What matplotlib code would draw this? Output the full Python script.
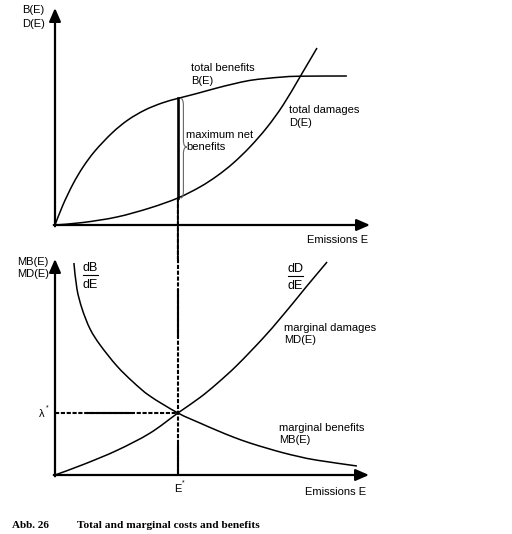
import matplotlib.pyplot as plt
from matplotlib.patches import ConnectionPatch, PathPatch
from matplotlib.path import Path
from matplotlib.lines import Line2D

plt.rcParams['font.family'] = ['Liberation Sans', 'DejaVu Sans']

W, H = 512, 534

# curves (E in axis units, E* ~ 4)
b_E = [0, 0.26, 0.59, 0.92, 1.31, 1.87, 2.39, 2.95, 3.51, 4.03, 4.59, 5.31, 5.84, 6.39, 6.95, 7.48, 8.03, 9.57]
b_val = [0, 1.0, 2.05, 2.9, 3.7, 4.6, 5.25, 5.75, 6.1, 6.33, 6.55, 6.85, 7.05, 7.23, 7.33, 7.4, 7.44, 7.45]
d_E = [0, 0.92, 2.03, 3.11, 4.03, 4.75, 5.31, 5.84, 6.39, 6.95, 7.48, 8.03, 8.59]
d_val = [0, 0.125, 0.4, 0.85, 1.35, 1.9, 2.45, 3.09, 3.9, 4.88, 6.0, 7.4, 8.85]

mb_E = [0.62, 0.72, 0.89, 1.15, 1.48, 2.03, 2.56, 3.11, 4.03, 4.75, 5.31, 5.84, 6.39, 6.95, 7.48, 8.03, 8.59, 9.9]
mb_val = [10.6, 9.3, 8.3, 7.3, 6.5, 5.45, 4.65, 3.95, 3.1, 2.6, 2.23, 1.9, 1.6, 1.34, 1.11, 0.91, 0.74, 0.45]
md_E = [0, 0.92, 2.03, 3.11, 4.03, 4.75, 5.31, 5.97, 6.82, 7.38, 7.93, 8.26, 8.92]
md_val = [0, 0.52, 1.23, 2.09, 3.1, 3.87, 4.57, 5.49, 6.84, 7.82, 8.83, 9.45, 10.65]

E_star = 4.03
B_star = 6.33
D_star = 1.35
lam_star = 3.1


def smooth(xs, ys):
    # catmull-rom through the read points, drawn as bezier segments
    pts = list(zip(xs, ys))
    verts = [pts[0]]
    codes = [Path.MOVETO]
    for i in range(len(pts) - 1):
        p0 = pts[i - 1] if i > 0 else pts[i]
        p1 = pts[i]
        p2 = pts[i + 1]
        p3 = pts[i + 2] if i + 2 < len(pts) else p2
        c1 = (p1[0] + (p2[0] - p0[0]) / 6, p1[1] + (p2[1] - p0[1]) / 6)
        c2 = (p2[0] - (p3[0] - p1[0]) / 6, p2[1] - (p3[1] - p1[1]) / 6)
        verts += [c1, c2, p2]
        codes += [Path.CURVE4] * 3
    return PathPatch(Path(verts, codes), fill=False, edgecolor='k', lw=1.1)


fig = plt.figure(figsize=(W / 100, H / 100), dpi=100)
fig.patch.set_facecolor('white')

ax_top = fig.add_axes([55 / W, (H - 225) / H, 315 / W, 217 / H])
ax_top.set_xlim(0, 315 / 30.5)
ax_top.set_ylim(0, 217 / 20)
ax_bot = fig.add_axes([55 / W, (H - 475) / H, 314 / W, 216 / H])
ax_bot.set_xlim(0, 314 / 30.5)
ax_bot.set_ylim(0, 216 / 20)

arrow = dict(arrowstyle='-|>,head_length=0.8,head_width=0.35', lw=1.6, color='k',
             shrinkA=0, shrinkB=0)
for ax in (ax_top, ax_bot):
    ax.set_axis_off()
    ax.annotate('', xy=(1, 0), xytext=(-0.004, 0), xycoords='axes fraction', arrowprops=arrow)
    ax.annotate('', xy=(0, 1), xytext=(0, -0.006), xycoords='axes fraction', arrowprops=arrow)

dash = (0, (2, 0.8))

# top panel
ax_top.add_patch(smooth(b_E, b_val))
ax_top.add_patch(smooth(d_E, d_val))
ax_top.plot([E_star, E_star], [D_star, B_star], color='k', lw=1.9)

# brace next to the net benefit line
x0 = E_star + 0.09
x1 = x0 + 0.09
x2 = x0 + 0.2
ymid = 3.9
r = 0.35
verts = [(x0, B_star), (x1, B_star), (x1, B_star - r), (x1, ymid + r),
         (x1, ymid), (x2, ymid), (x1, ymid), (x1, ymid - r), (x1, D_star + r),
         (x1, D_star), (x0, D_star)]
codes = [Path.MOVETO, Path.CURVE3, Path.CURVE3, Path.LINETO, Path.CURVE3, Path.CURVE3,
         Path.CURVE3, Path.CURVE3, Path.LINETO, Path.CURVE3, Path.CURVE3]
ax_top.add_patch(PathPatch(Path(verts, codes), fill=False, edgecolor='#666666', lw=0.8))

# bottom panel
ax_bot.add_patch(smooth(mb_E, mb_val))
ax_bot.add_patch(smooth(md_E, md_val))
ax_bot.plot([0, E_star], [lam_star, lam_star], color='k', lw=1.5, linestyle=dash)
ax_bot.plot([1.08, 2.46], [lam_star, lam_star], color='k', lw=1.5)
ytop = ax_bot.get_ylim()[1]
ax_bot.plot([E_star, E_star], [ytop, 0], color='k', lw=1.5, linestyle=dash)
ax_bot.plot([E_star, E_star], [9.25, 6.9], color='k', lw=1.5)
ax_bot.plot([E_star, E_star], [1.5, 0], color='k', lw=1.5)

con = ConnectionPatch(xyA=(E_star, D_star), coordsA=ax_top.transData,
                      xyB=(E_star, ytop), coordsB=ax_bot.transData,
                      color='k', lw=1.5, linestyle=dash)
fig.add_artist(con)


def ftext(x, y, s, size=8, **kw):
    fig.text(x / W, 1 - y / H, s, va='center', fontsize=size, **kw)


ftext(22, 10, 'B(E)')
ftext(22, 24, 'D(E)')
ftext(191, 68, 'total benefits')
ftext(191, 81, 'B(E)')
ftext(186, 135, 'maximum net')
ftext(186, 147, 'benefits')
ftext(289, 110, 'total damages')
ftext(289, 123, 'D(E)')
ftext(307, 240, 'Emissions E')

ftext(17, 262, 'MB(E)')
ftext(17, 274, 'MD(E)')
ftext(90.5, 268, 'dB', size=9, ha='center')
ftext(90.5, 285, 'dE', size=9, ha='center')
ftext(295.5, 269, 'dD', size=9, ha='center')
ftext(295.5, 286, 'dE', size=9, ha='center')
for xa, xb, yy in [(83, 98, 275), (288, 303, 276)]:
    fig.add_artist(Line2D([xa / W, xb / W], [1 - yy / H] * 2, color='k', lw=0.8))
ftext(284, 328, 'marginal damages')
ftext(284, 340, 'MD(E)')
ftext(279, 428, 'marginal benefits')
ftext(279, 440, 'MB(E)')
ftext(41.5, 414, 'λ', ha='center')
ftext(47, 408, '*', size=5, ha='center')
ftext(178, 489, 'E', ha='center')
ftext(183, 483, '*', size=5, ha='center')
ftext(305, 492, 'Emissions E')

cap = dict(family=['Liberation Serif', 'DejaVu Serif'], weight='bold')
ftext(12, 525, 'Abb. 26', size=8, **cap)
ftext(77, 525, 'Total and marginal costs and benefits', size=8.2, **cap)

fig.savefig('out.png', dpi=100)
